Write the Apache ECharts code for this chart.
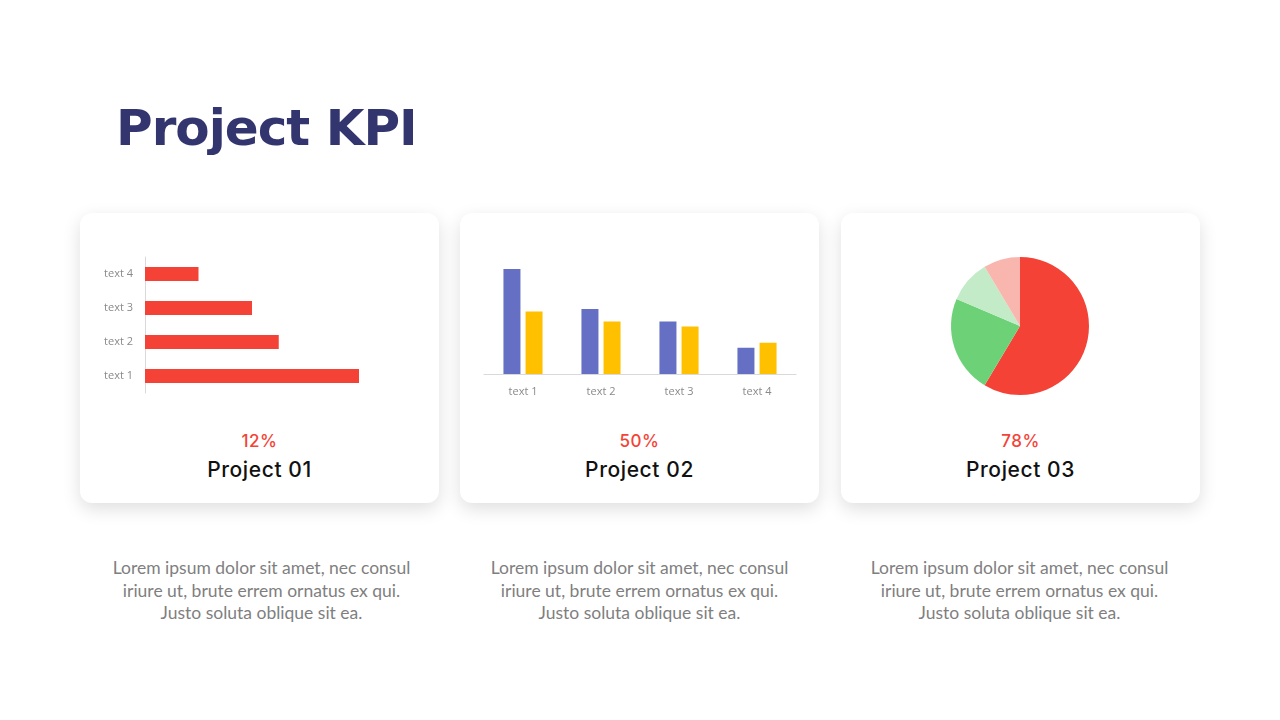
<!DOCTYPE html>
<html>
<head>
<meta charset="utf-8">
<script src="https://cdn.jsdelivr.net/npm/echarts@6/dist/echarts.min.js"></script>
<style>
  html, body { margin: 0; padding: 0; background: #fff; }
  #page { position: relative; width: 1280px; height: 720px; overflow: hidden; }
  .title { position: absolute; left: 116px; top: 99px; font-family: "DejaVu Sans"; font-weight: bold;
           font-size: 50px; color: #33366e; letter-spacing: -1px; }
  .card { position: absolute; top: 213px; width: 359px; height: 290px; background: #fff;
          border-radius: 12px; box-shadow: 0 6px 18px rgba(0,0,0,0.13); }
  .pct { position: absolute; left: 0; width: 100%; top: 218px; text-align: center;
         font-family: Inter; font-weight: 500; font-size: 17px; letter-spacing: 0.5px; color: #f44336; }
  .name { position: absolute; left: 0; width: 100%; top: 244px; text-align: center;
          font-family: Inter; font-weight: 500; font-size: 21px; letter-spacing: 0.6px; color: #111; }
  .desc { position: absolute; top: 557px; width: 359px; text-align: center; font-family: Lato;
          font-size: 17.5px; line-height: 22.5px; color: #7f7f7f; }
  #chart { position: absolute; left: 0; top: 0; width: 1280px; height: 720px; pointer-events: none; }
</style>
</head>
<body>
<div id="page">
  <div class="title">Project KPI</div>
  <div class="card" style="left:80px"><div class="pct">12%</div><div class="name">Project 01</div></div>
  <div class="card" style="left:460px"><div class="pct">50%</div><div class="name">Project 02</div></div>
  <div class="card" style="left:841px"><div class="pct">78%</div><div class="name">Project 03</div></div>
  <div class="desc" style="left:82px">Lorem ipsum dolor sit amet, nec consul<br>iriure ut, brute errem ornatus ex qui.<br>Justo soluta oblique sit ea.</div>
  <div class="desc" style="left:460px">Lorem ipsum dolor sit amet, nec consul<br>iriure ut, brute errem ornatus ex qui.<br>Justo soluta oblique sit ea.</div>
  <div class="desc" style="left:840px">Lorem ipsum dolor sit amet, nec consul<br>iriure ut, brute errem ornatus ex qui.<br>Justo soluta oblique sit ea.</div>
  <div id="chart"></div>
</div>
<script>
// project 01 - horizontal bars
var hbarCats = ['text 1', 'text 2', 'text 3', 'text 4'];
var hbarValues = [4, 2.5, 2, 1];
// project 02 - grouped columns
var colCats = ['text 1', 'text 2', 'text 3', 'text 4'];
var colSeries1 = [4.2, 2.6, 2.1, 1.05];
var colSeries2 = [2.5, 2.1, 1.9, 1.25];
// project 03 - pie
var pieNames = ['Sales 1', 'Sales 2', 'Sales 3', 'Sales 4'];
var pieValues = [8.2, 3.2, 1.4, 1.2];
var pieColors = ['#f44336', '#6dd277', '#c3ebc8', '#f9b6ae'];

var labelStyle = { color: '#8a8a8a', fontSize: 11, fontFamily: 'Open Sans' };
var myChart = echarts.init(document.getElementById('chart'), null, { renderer: 'canvas' });

var pieData = [];
for (var i = 0; i < pieValues.length; i++) {
    pieData.push({ name: pieNames[i], value: pieValues[i], itemStyle: { color: pieColors[i] } });
}

var option = {
    backgroundColor: 'transparent',
    animation: false,
    grid: [
        { left: 145, top: 257, width: 267.5, height: 136 },
        { left: 484, top: 249, width: 312, height: 125 }
    ],
    xAxis: [
        { gridIndex: 0, type: 'value', min: 0, max: 5, show: false },
        { gridIndex: 1, type: 'category', data: colCats,
          axisLine: { lineStyle: { color: '#d9d9d9' } }, axisTick: { show: false },
          axisLabel: Object.assign({ margin: 12 }, labelStyle) }
    ],
    yAxis: [
        { gridIndex: 0, type: 'category', data: hbarCats,
          axisLine: { lineStyle: { color: '#d9d9d9' } }, axisTick: { show: false },
          axisLabel: Object.assign({ margin: 12 }, labelStyle) },
        { gridIndex: 1, type: 'value', min: 0, max: 5, show: false, splitLine: { show: false } }
    ],
    series: [
        { type: 'bar', xAxisIndex: 0, yAxisIndex: 0, data: hbarValues, barWidth: 14,
          itemStyle: { color: '#f44336' } },
        { type: 'bar', xAxisIndex: 1, yAxisIndex: 1, data: colSeries1, barWidth: 17, barGap: '30%',
          itemStyle: { color: '#6570c4' } },
        { type: 'bar', xAxisIndex: 1, yAxisIndex: 1, data: colSeries2, barWidth: 17, barGap: '30%',
          itemStyle: { color: '#ffc000' } },
        { type: 'pie', center: [1020, 326], radius: 69, startAngle: 90, clockwise: true,
          label: { show: false }, labelLine: { show: false }, data: pieData,
          emphasis: { disabled: true } }
    ]
};
myChart.setOption(option);
</script>
</body>
</html>
